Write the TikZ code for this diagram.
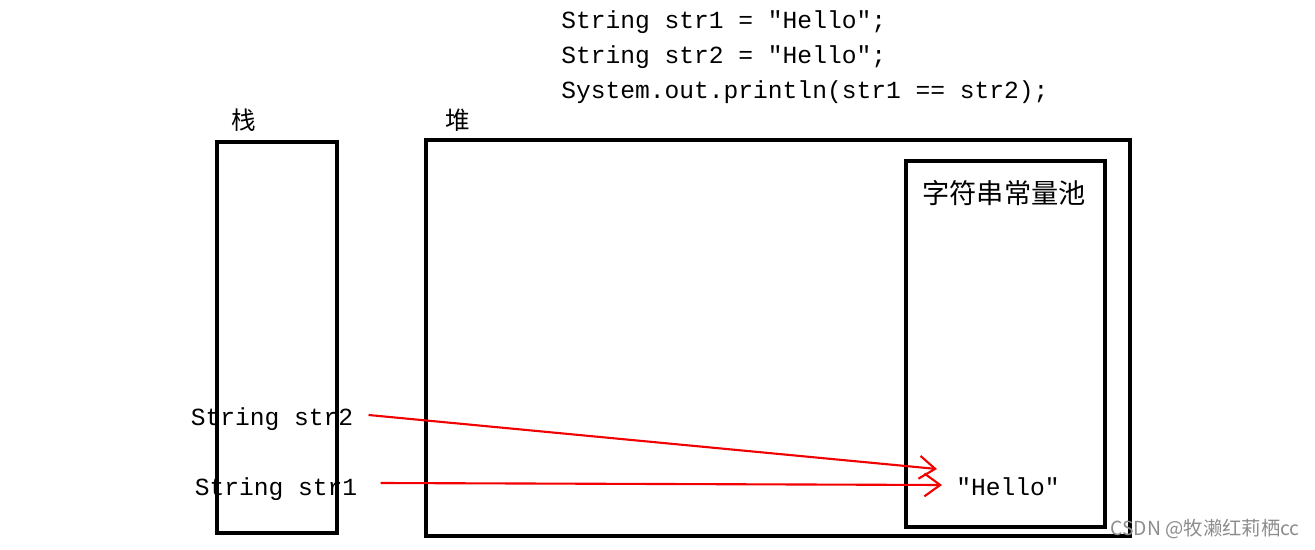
\documentclass[tikz,border=0pt]{standalone}
\usepackage{fontspec}
\setmonofont{Liberation Mono}
\newfontfamily\cjk{Noto Sans CJK SC}
\usetikzlibrary{arrows.meta,positioning}
\tikzset{
box/.style={draw=black,line width=2pt},
code/.style={font=\ttfamily\fontsize{14}{16}\selectfont,inner sep=0pt,anchor=west},
label/.style={font=\cjk\fontsize{14}{16}\selectfont,inner sep=0pt},
ref/.style={draw=red!95!black,line width=1.2pt,-{Straight Barb[length=9pt,width=13pt,line width=1.2pt]}}
}

\begin{document}
\begin{tikzpicture}[x=0.02cm,y=-0.02cm]
    \useasboundingbox (0,0) rectangle (1315,550);

    % code
    \node[code] (line1) at (561,22) {String str1 = "Hello";};
    \node[code] (line2) at (561,57) {String str2 = "Hello";};
    \node[code] (line3) at (561,92) {System.out.println(str1 == str2);};

    % stack and heap
    \draw[box] (217,142) rectangle (337,533);
    \draw[box] (426,140) rectangle (1130,536);
    \draw[box] (906,161) rectangle (1105,527);
    \node[label] (stack) at (244,120) {栈};
    \node[label] (heap) at (458,120) {堆};
    \node[label,font=\cjk\fontsize{15.5}{18}\selectfont] (pool) at (1004,193) {字符串常量池};

    \node[code,anchor=center] (str2) at (272,419) {String str2};
    \node[code,anchor=center] (str1) at (276,489) {String str1};
    \node[code,anchor=center] (hello) at (1008,487) {"Hello"};

    \coordinate (tip2) at (937,469);
    \coordinate (tip1) at (942,485);
    \draw[ref] ([xshift=0.3cm,yshift=0.08cm]str2.east) -- (tip2);
    \draw[ref] ([xshift=0.46cm,yshift=0.12cm]str1.east) -- (tip1);

    \node[font=\cjk\fontsize{11}{13}\selectfont,text=black!45,inner sep=0pt,anchor=east] (mark) at (1300,529) {CSDN @牧濑红莉栖cc};
\end{tikzpicture}
\end{document}
